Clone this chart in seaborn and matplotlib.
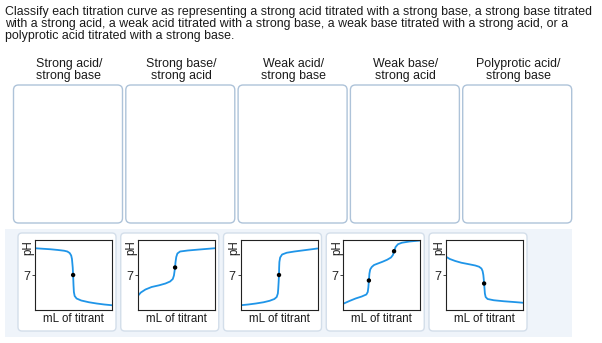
import matplotlib
matplotlib.use("Agg")
import matplotlib.pyplot as plt
from matplotlib.patches import FancyBboxPatch, Rectangle
import seaborn as sns
import pandas as pd

sns.set_theme(style="white")
plt.rcParams['font.family'] = ['Liberation Sans', 'DejaVu Sans']

# ---------------- data ----------------
instruction_lines = [
    "Classify each titration curve as representing a strong acid titrated with a strong base, a strong base titrated",
    "with a strong acid, a weak acid titrated with a strong base, a weak base titrated with a strong acid, or a",
    "polyprotic acid titrated with a strong base.",
]
categories = ["Strong acid/\nstrong base", "Strong base/\nstrong acid", "Weak acid/\nstrong base",
              "Weak base/\nstrong acid", "Polyprotic acid/\nstrong base"]

curve1_x = [0.00, 0.10, 0.20, 0.30, 0.38, 0.42, 0.45, 0.47, 0.48, 0.49, 0.495, 0.50, 0.505, 0.515, 0.54, 0.60, 0.70, 0.80, 0.90, 1.00]
curve1_y = [12.35, 12.25, 12.15, 12.0, 11.85, 11.7, 11.4, 10.9, 10.2, 8.5, 7.0, 5.0, 3.6, 2.8, 2.3, 1.9, 1.55, 1.3, 1.1, 0.95]
curve1_pts_x = [0.495]
curve1_pts_y = [7.0]

curve2_x = [0.00, 0.04, 0.10, 0.18, 0.28, 0.36, 0.42, 0.455, 0.47, 0.48, 0.485, 0.49, 0.50, 0.515, 0.55, 0.65, 0.80, 1.00]
curve2_y = [2.8, 3.5, 4.1, 4.6, 4.95, 5.3, 5.7, 6.2, 6.9, 8.0, 8.5, 9.5, 10.6, 11.3, 11.7, 11.9, 12.1, 12.35]
curve2_pts_x = [0.485]
curve2_pts_y = [8.5]

curve3_x = [0.00, 0.10, 0.20, 0.30, 0.38, 0.44, 0.47, 0.485, 0.49, 0.495, 0.50, 0.502, 0.505, 0.515, 0.54, 0.60, 0.70, 0.85, 1.00]
curve3_y = [0.95, 1.1, 1.3, 1.55, 1.85, 2.2, 2.6, 3.3, 4.2, 5.5, 7.0, 8.5, 9.6, 10.5, 11.1, 11.45, 11.7, 12.0, 12.3]
curve3_pts_x = [0.50]
curve3_pts_y = [7.0]

curve4_x = [0.00, 0.08, 0.16, 0.24, 0.30, 0.318, 0.326, 0.333, 0.34, 0.35, 0.37, 0.40, 0.45, 0.51, 0.57, 0.62, 0.645, 0.66, 0.68, 0.71, 0.76, 0.86, 1.00]
curve4_y = [1.25, 1.8, 2.3, 2.7, 3.1, 3.6, 4.5, 5.9, 7.3, 8.1, 8.6, 9.0, 9.3, 9.65, 10.05, 10.5, 11.0, 11.75, 12.6, 13.15, 13.45, 13.7, 13.9]
curve4_pts_x = [0.333, 0.66]
curve4_pts_y = [5.9, 11.75]

curve5_x = [0.00, 0.05, 0.12, 0.20, 0.30, 0.38, 0.43, 0.46, 0.475, 0.485, 0.49, 0.495, 0.50, 0.505, 0.515, 0.54, 0.62, 0.75, 0.88, 1.00]
curve5_y = [10.65, 10.2, 9.8, 9.45, 9.15, 8.9, 8.65, 8.3, 7.8, 7.0, 6.2, 5.3, 4.3, 3.3, 2.6, 2.2, 1.95, 1.75, 1.6, 1.45]
curve5_pts_x = [0.495]
curve5_pts_y = [5.3]

curves = [
    (curve1_x, curve1_y, curve1_pts_x, curve1_pts_y),
    (curve2_x, curve2_y, curve2_pts_x, curve2_pts_y),
    (curve3_x, curve3_y, curve3_pts_x, curve3_pts_y),
    (curve4_x, curve4_y, curve4_pts_x, curve4_pts_y),
    (curve5_x, curve5_y, curve5_pts_x, curve5_pts_y),
]
y_tick_values = [7]
y_tick_labels = ["7"]
x_label = "mL of titrant"
y_label = "pH"

# ---------------- layout ----------------
W, H = 602, 343
fig = plt.figure(figsize=(W / 100, H / 100), dpi=100)
bg = fig.add_axes([0, 0, 1, 1])
bg.set_xlim(0, W)
bg.set_ylim(H, 0)
bg.axis("off")

text_color = "#1a1a1a"
for i, line in enumerate(instruction_lines):
    bg.text(5, 14.5 + 12.4 * i, line, fontsize=8.95, color=text_color, va="baseline", ha="left")

box_left0, box_step, box_w = 13, 112.3, 110
box_top, box_h = 85, 138
for i, cat in enumerate(categories):
    x0 = box_left0 + i * box_step
    bg.text(x0 + box_w / 2 + 1, 70, cat, fontsize=8.9, color=text_color, ha="center", va="center",
            linespacing=1.1)
    bg.add_patch(FancyBboxPatch((x0 + 0.5, box_top), box_w - 1, box_h,
                                boxstyle="round,pad=0,rounding_size=5",
                                facecolor="white", edgecolor="#aec3d9", linewidth=1.0))

# bottom panel
bg.add_patch(Rectangle((5, 229), 567, 108, facecolor="#eff4fa", edgecolor="none"))

card_left0, card_step, card_w = 18, 102.75, 98
card_top, card_h = 233, 98
ax_off, ax_w, ax_top, ax_h = 17, 77, 240, 70
line_color = "#1f95e8"
for i, (cx, cy, px, py) in enumerate(curves):
    x0 = card_left0 + i * card_step
    bg.add_patch(FancyBboxPatch((x0, card_top), card_w, card_h,
                                boxstyle="round,pad=0,rounding_size=4",
                                facecolor="white", edgecolor="#d3deea", linewidth=1.0))
    L = x0 + ax_off
    ax = fig.add_axes([L / W, 1 - (ax_top + ax_h) / H, ax_w / W, ax_h / H])
    df = pd.DataFrame({"x": cx, "y": cy})
    sns.lineplot(data=df, x="x", y="y", ax=ax, color=line_color, linewidth=1.3, sort=False,
                 estimator=None)
    dp = pd.DataFrame({"x": px, "y": py})
    sns.scatterplot(data=dp, x="x", y="y", ax=ax, color="black", s=10, edgecolor="none", zorder=5)
    ax.set_xlim(0, 1)
    ax.set_ylim(0, 14)
    ax.set_xticks([])
    ax.set_yticks(y_tick_values)
    ax.set_yticklabels(y_tick_labels)
    ax.tick_params(axis="y", which="both", left=True, length=2.2, width=0.6, pad=1.2,
                   labelsize=9, colors="#222222", direction="out")
    for s in ax.spines.values():
        s.set_color("#222222")
        s.set_linewidth(0.8)
        s.set_visible(True)
    ax.set_facecolor("white")
    ax.set_xlabel(x_label, fontsize=8.3, color=text_color, labelpad=2)
    ax.set_ylabel("")
    ax.text(-0.082, 1.0, y_label, rotation=90, transform=ax.transAxes, ha="center", va="top",
            fontsize=8.3, color=text_color)

fig.savefig("out.png", dpi=100)
